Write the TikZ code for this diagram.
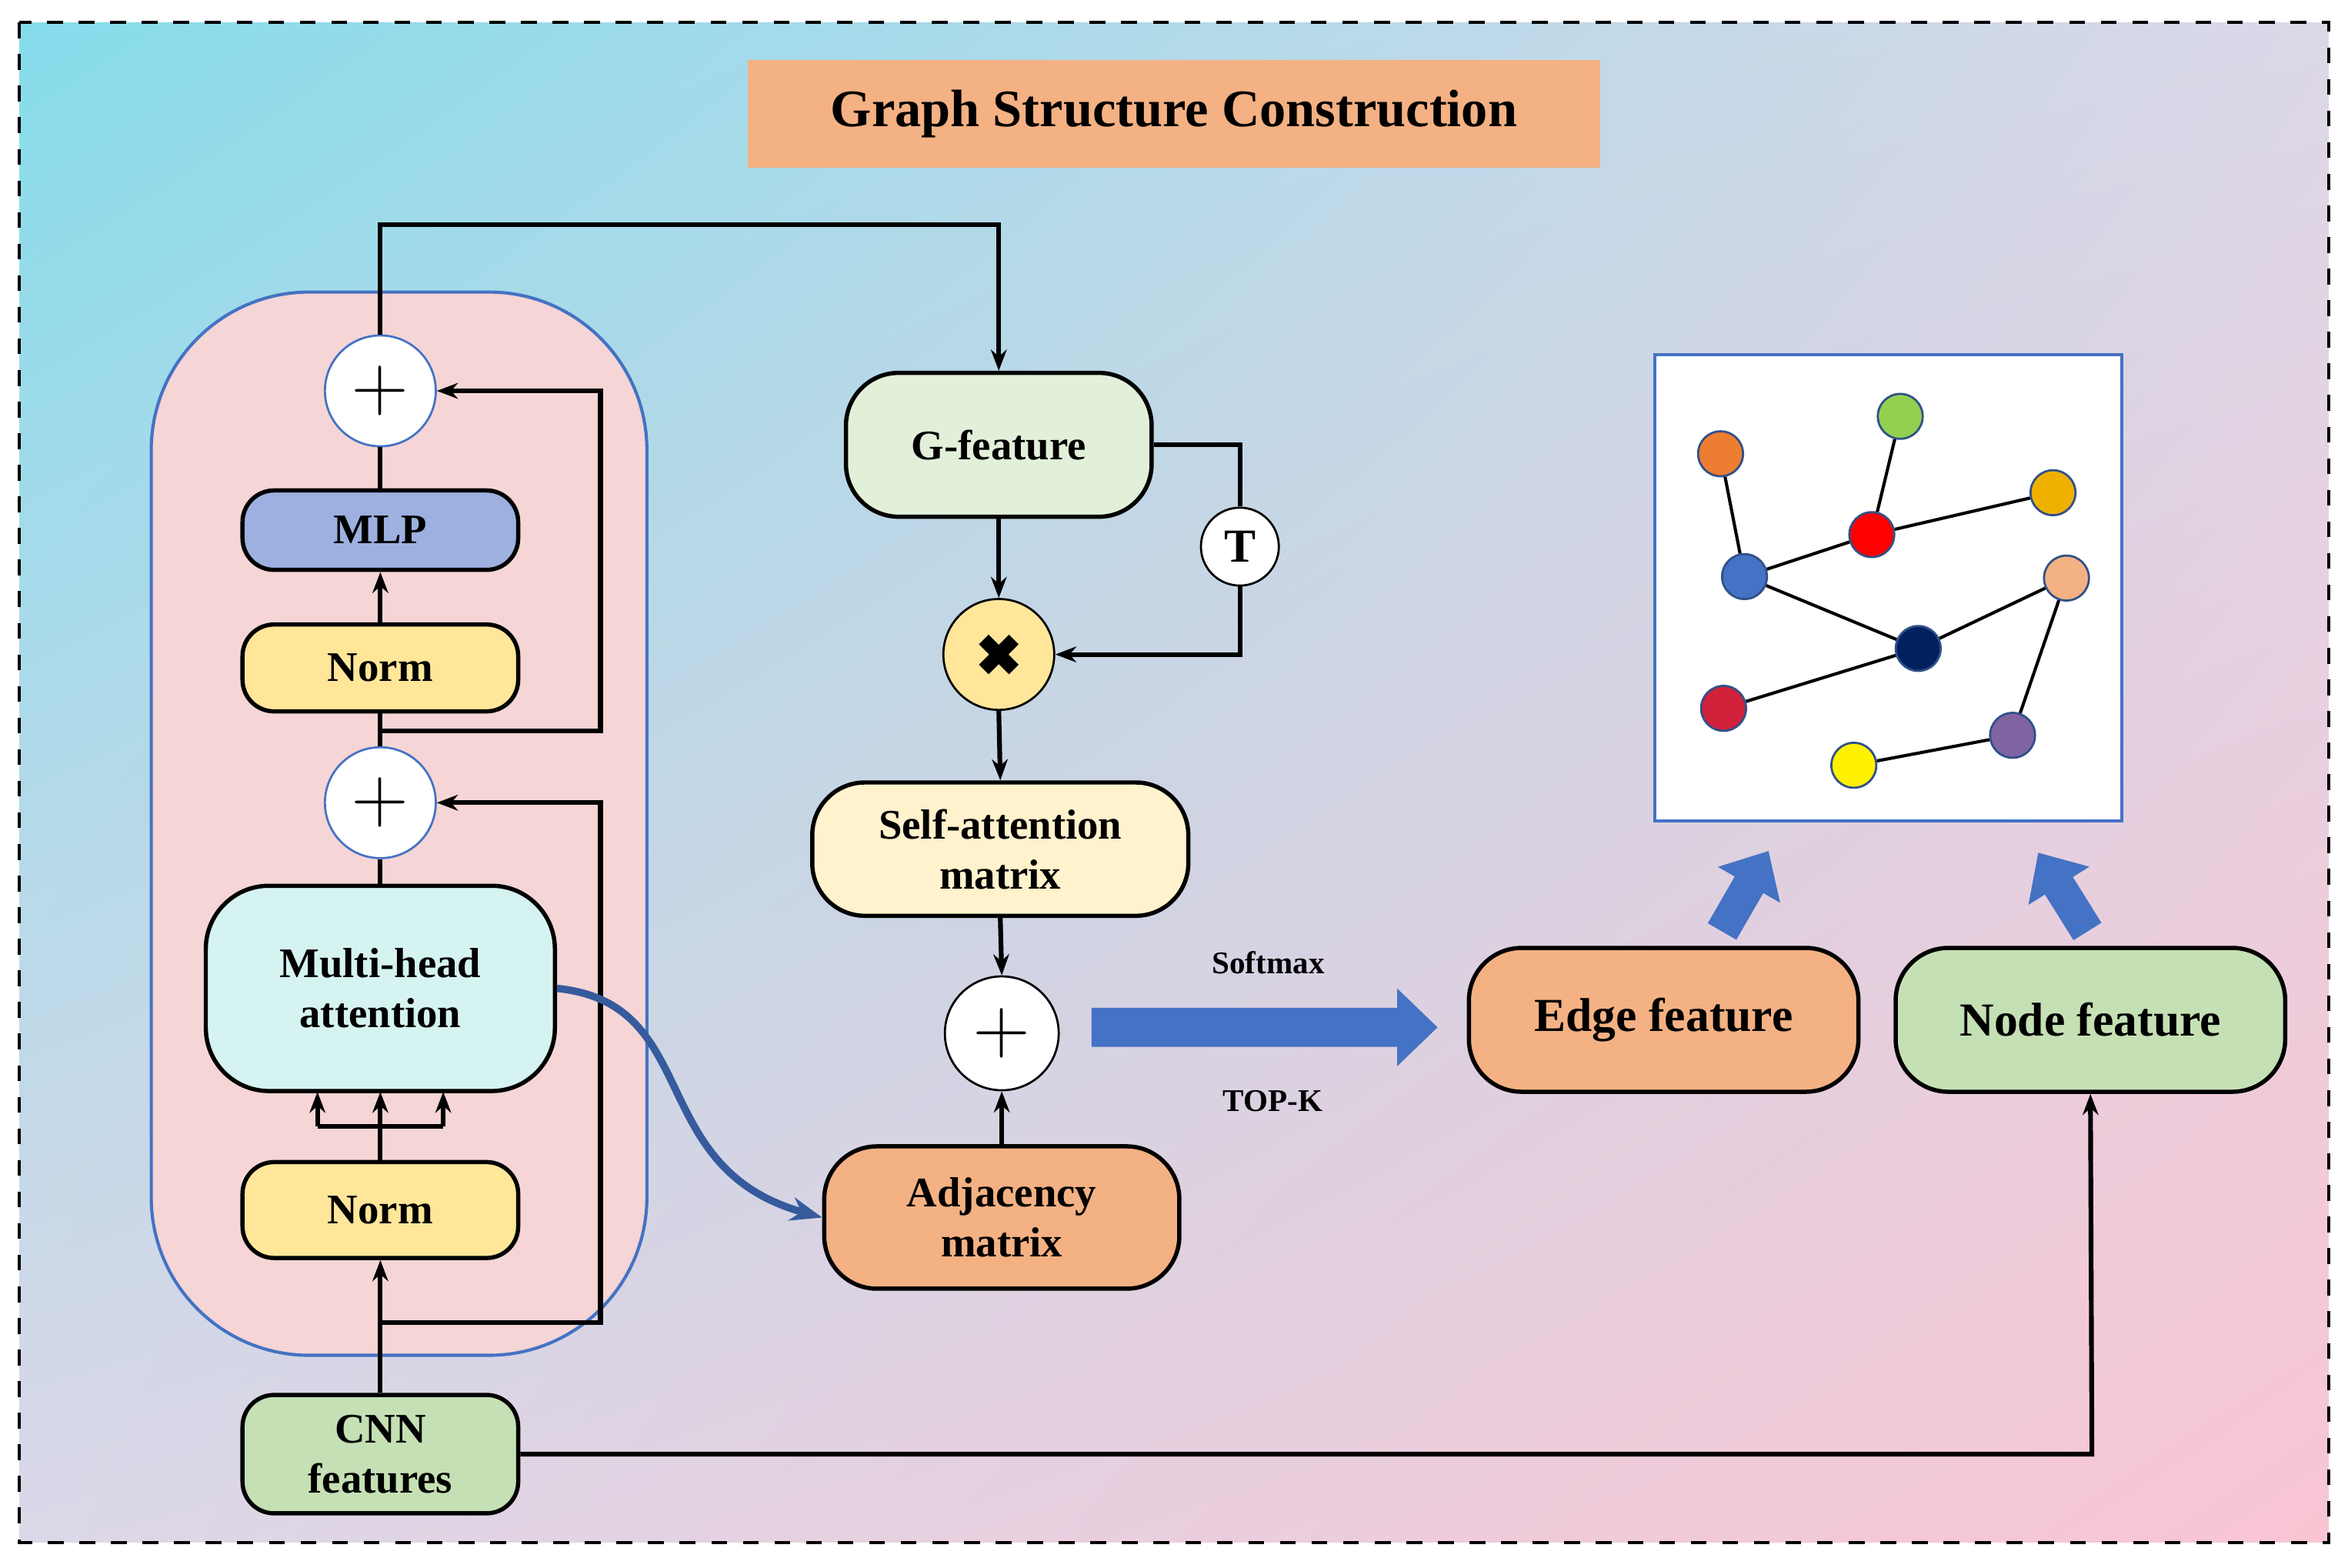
\documentclass[tikz,border=0pt]{standalone}
\usepackage{fontspec}
\setmainfont{Liberation Serif}
\usetikzlibrary{arrows.meta,shadings}
\definecolor{bgcyan}{HTML}{86DCEB}
\definecolor{bgmid}{HTML}{DCD8E8}
\definecolor{bgpink}{HTML}{F9C5D3}
\definecolor{peach}{HTML}{F4B183}
\definecolor{sand}{HTML}{FFE699}
\definecolor{cream}{HTML}{FFF2CC}
\definecolor{mint}{HTML}{C5E0B4}
\definecolor{palegreen}{HTML}{E2F0D9}
\definecolor{aqua}{HTML}{D5F3F0}
\definecolor{lilac}{HTML}{9DB0E0}
\definecolor{rose}{HTML}{F5D5D5}
\definecolor{steel}{HTML}{4472C4}
\begin{document}
\begin{tikzpicture}
            [
            x=0.01cm,y=-0.01cm,
            box/.style={draw=black,rounded corners=6pt,line width=0.8pt,
                font={\fontsize{8}{9.5}\selectfont\bfseries},align=center,inner sep=0pt},
            op/.style={circle,draw=steel,fill=white,minimum size=0.74cm,inner sep=0pt,
                font={\fontsize{14}{14}\selectfont}},
            gnode/.style={circle,draw=steel!70!black,minimum size=0.3cm,inner sep=0pt},
            flow/.style={line width=0.9pt,-{Stealth[length=4pt]}},
            link/.style={line width=0.9pt},
            small/.style={font={\fontsize{6}{7}\selectfont\bfseries}},
            ]
            \useasboundingbox (0,0) rectangle (1568,1047);
            % Background
            \shade[upper left=bgcyan,upper right=bgmid,lower left=bgmid,lower right=bgpink]
                (13,15) rectangle (1555,1030);
            \draw[dashed,line width=0.6pt] (13,15) rectangle (1555,1030);
            \node[fill=peach,minimum width=5.69cm,minimum height=0.72cm,
                font={\fontsize{10}{11}\selectfont\bfseries}] (title) at (784,76)
                {Graph Structure Construction};

            % Encoder block
            \draw[steel,fill=rose,rounded corners=30pt,line width=0.6pt] (101,195) rectangle (432,905);
            \node[op] (add1) at (254,261) {$+$};
            \node[op] (add2) at (254,536) {$+$};
            \node[box,fill=lilac,minimum width=1.84cm,minimum height=0.53cm] (mlp) at (254,354) {MLP};
            \node[box,fill=sand,minimum width=1.84cm,minimum height=0.58cm] (norma) at (254,446) {Norm};
            \node[box,fill=aqua,rounded corners=12pt,minimum width=2.33cm,minimum height=1.37cm] (mha) at (254,660) {Multi-head\\attention};
            \node[box,fill=sand,minimum width=1.84cm,minimum height=0.64cm] (normb) at (254,808) {Norm};
            \node[box,fill=mint,minimum width=1.84cm,minimum height=0.79cm] (cnn) at (254,971) {CNN\\features};

            \draw[flow] (cnn.north) -- (normb.south);
            \draw[flow] (254,883) -- (401,883) -- (401,536) -- (add2.east);
            \draw[link] (normb.north) -- (254,752);
            \draw[link] (212,752) -- (296,752);
            \draw[flow] (212,752) -- (212,729);
            \draw[flow] (254,752) -- (254,729);
            \draw[flow] (296,752) -- (296,729);
            \draw[link] (mha.north) -- (add2.south);
            \draw[link] (add2.north) -- (norma.south);
            \draw[flow] (254,488) -- (401,488) -- (401,261) -- (add1.east);
            \draw[flow] (norma.north) -- (mlp.south);
            \draw[link] (mlp.north) -- (add1.south);

            % Attention branch
            \node[box,fill=palegreen,rounded corners=10pt,minimum width=2.04cm,minimum height=0.96cm] (gfeat) at (667,297) {G-feature};
            \node[op,draw=black,minimum size=0.52cm,font={\fontsize{9}{9}\selectfont\bfseries}] (trans) at (828,365) {T};
            \node[op,draw=black,fill=sand] (mul) at (667,437) {};
            \draw[line width=2.6pt] (657,427) -- (677,447) (657,447) -- (677,427);
            \node[box,fill=cream,rounded corners=10pt,minimum width=2.51cm,minimum height=0.89cm] (selfatt) at (668,567) {Self-attention\\matrix};
            \node[op,draw=black,minimum size=0.76cm] (add3) at (669,690) {$+$};
            \node[box,fill=peach,rounded corners=10pt,minimum width=2.37cm,minimum height=0.95cm] (adj) at (669,813) {Adjacency\\matrix};

            \draw[flow] (add1.north) -- (254,150) -- (667,150) -- (gfeat.north);
            \draw[link] (gfeat.east) -- (828,297) -- (trans.north);
            \draw[flow] (trans.south) -- (828,437) -- (mul.east);
            \draw[flow] (gfeat.south) -- (mul.north);
            \draw[flow] (mul.south) -- (selfatt.north);
            \draw[flow] (selfatt.south) -- (add3.north);
            \draw[flow] (adj.north) -- (add3.south);
            \draw[steel!80!black,line width=1.4pt,-{Stealth[length=6pt]}] (mha.east)
                .. controls (470,670) and (430,780) .. (adj.west);

            % Outputs
            \fill[steel] (729,673) -- (933,673) -- (933,660) -- (960,686) -- (933,712)
                -- (933,699) -- (729,699) -- cycle;
            \node[small] (softmax) at (847,643) {Softmax};
            \node[small] (topk) at (850,735) {TOP-K};
            \node[box,fill=peach,rounded corners=10pt,minimum width=2.6cm,minimum height=0.96cm,
                font={\fontsize{9}{11}\selectfont\bfseries}] (edge) at (1111,681) {Edge feature};
            \node[box,fill=mint,rounded corners=10pt,minimum width=2.6cm,minimum height=0.96cm,
                font={\fontsize{9}{11}\selectfont\bfseries}] (nodef) at (1396,681) {Node feature};
            \draw[flow] (cnn.east) -- (1397,971) -- (nodef.south);
            \begin{scope}[shift={(1150,622)},rotate=60]
                \fill[steel] (0,11) -- (36,11) -- (36,24) -- (62,0) -- (36,-24) -- (36,-11) -- (0,-11) -- cycle;
            \end{scope}
            \begin{scope}[shift={(1394,622)},rotate=122]
                \fill[steel] (0,11) -- (36,11) -- (36,24) -- (62,0) -- (36,-24) -- (36,-11) -- (0,-11) -- cycle;
            \end{scope}

            % Graph
            \draw[steel,fill=white,line width=0.6pt] (1105,237) rectangle (1417,548);
            \node[gnode,fill={rgb,255:red,237;green,125;blue,49}] (va) at (1149,303) {};
            \node[gnode,fill={rgb,255:red,146;green,208;blue,80}] (vb) at (1269,278) {};
            \node[gnode,fill={rgb,255:red,240;green,176;blue,0}] (vc) at (1371,329) {};
            \node[gnode,fill=red] (vd) at (1250,357) {};
            \node[gnode,fill=steel] (ve) at (1165,385) {};
            \node[gnode,fill=peach] (vf) at (1380,386) {};
            \node[gnode,fill={rgb,255:red,0;green,32;blue,96}] (vg) at (1281,433) {};
            \node[gnode,fill={rgb,255:red,208;green,32;blue,58}] (vh) at (1151,473) {};
            \node[gnode,fill=yellow] (vi) at (1238,511) {};
            \node[gnode,fill={rgb,255:red,128;green,100;blue,162}] (vj) at (1344,491) {};
            \foreach \a/\b in {va/ve,vb/vd,vd/ve,vd/vc,ve/vg,vg/vf,vg/vh,vf/vj,vj/vi}
                \draw[line width=0.6pt] (\a) -- (\b);
        \end{tikzpicture}
\end{document}
